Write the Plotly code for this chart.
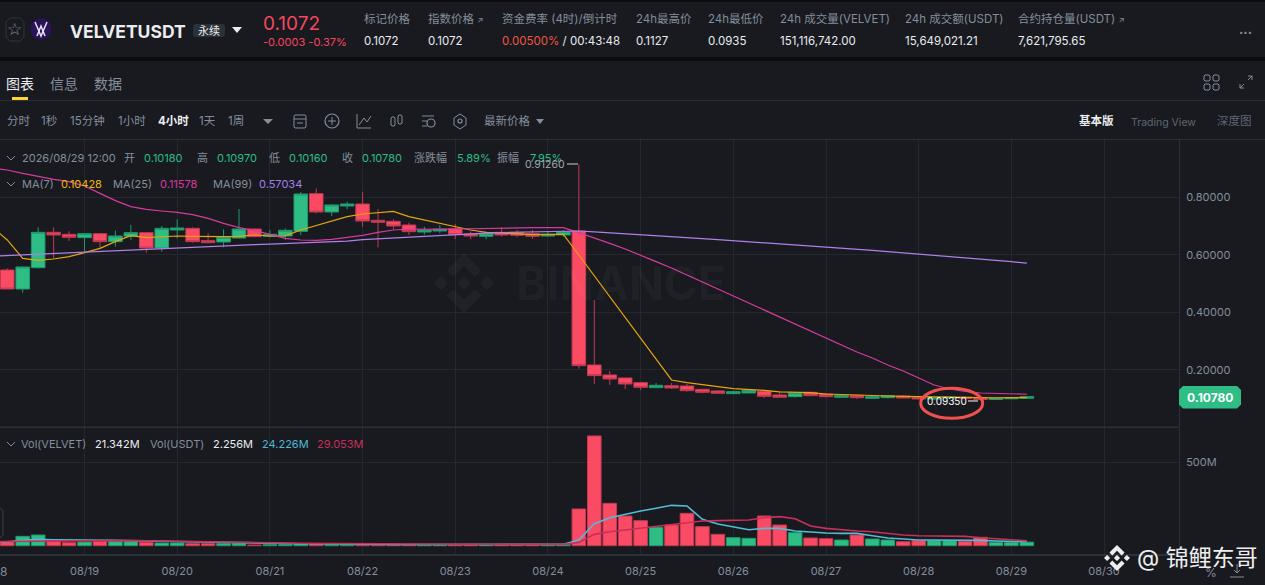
import pandas as pd
import plotly.graph_objects as go

# 4h candles, first one sits just off the left edge at 08/18 00:00
times = pd.date_range("2026-08-18 00:00", periods=68, freq="4h")

opens = [.5600, .5468, .4809, .5549, .6775, .6705, .6590, .6728, .6451, .6636, .6763,
         .6231, .6856, .6913, .6486, .6439, .6578, .6890, .6636, .6647, .6809,
         .8116, .7480, .7688, .7757, .7191, .7156, .7029, .6786, .6821, .6902,
         .6717, .6636, .6775, .6763, .6728, .6647, .6682, .6821, .2173, .1827,
         .1723, .1561, .1387, .1457, .1445, .1329, .1272, .1179, .1202, .1260,
         .1133, .1075, .1225, .1167, .1051, .1120, .1017, .1039, .1097, .1055,
         .0990, .1030, .1055, .1010, .0975, .1000, .1018]
highs = [.5700, .5526, .5584, .6948, .6948, .6810, .6740, .6740, .6832, .7029, .6763,
         .6994, .7226, .6948, .6740, .6879, .7584, .6913, .6856, .6913, .8173,
         .8301, .7746, .7838, .8185, .7584, .7226, .7110, .6971, .7029, .7064,
         .6798, .6798, .6948, .6855, .6855, .6798, .6855, .9126, .4428, .1965,
         .1723, .1584, .1549, .1549, .1514, .1353, .1306, .1283, .1306, .1283,
         .1225, .1225, .1249, .1190, .1167, .1143, .1120, .1132, .1132, .1097,
         .1060, .1070, .1075, .1040, .1030, .1045, .1097]
lows = [.5400, .4809, .4682, .5515, .5873, .6474, .6104, .6220, .6277, .6509, .6069,
        .6104, .6567, .6416, .6393, .6254, .6555, .6601, .6601, .6509, .6682,
        .7434, .7341, .7572, .6971, .6254, .6879, .6682, .6694, .6740, .6543,
        .6532, .6532, .6624, .6601, .6543, .6624, .6624, .2046, .1514, .1480,
        .1341, .1306, .1387, .1341, .1249, .1191, .1168, .1156, .1191, .1029,
        .1052, .1041, .1087, .1051, .1028, .0993, .0993, .1017, .1017, .0970,
        .0975, .1010, .0990, .0935, .0960, .0985, .1016]
closes = [.5468, .4809, .5572, .6775, .6682, .6601, .6728, .6451, .6647, .6763, .6231,
          .6913, .6925, .6451, .6416, .6601, .6890, .6624, .6705, .6844, .8104,
          .7480, .7723, .7757, .7168, .7122, .6994, .6798, .6855, .6890, .6694,
          .6647, .6740, .6682, .6671, .6636, .6705, .6798, .2150, .1804, .1688,
          .1514, .1399, .1468, .1376, .1283, .1225, .1191, .1249, .1295, .1087,
          .1052, .1202, .1110, .1074, .1120, .1039, .1074, .1109, .1028, .0995,
          .1030, .1055, .1010, .0975, .1005, .1018, .1078]

ma7 = [.6971, .6509, .5873, .5804, .5850, .5931, .6069, .6220, .6451, .6659, .6590,
       .6613, .6647, .6636, .6624, .6624, .6636, .6682, .6647, .6647, .6856,
       .7006, .7168, .7318, .7410, .7468, .7503, .7318, .7202, .7110, .6971,
       .6856, .6775, .6740, .6717, .6694, .6705, .6705, .5988, .5272, .4543,
       .3815, .3098, .2370, .1653, .1561, .1503, .1422, .1353, .1329, .1295,
       .1237, .1225, .1214, .1167, .1143, .1120, .1109, .1097, .1086, .1074,
       .1063, .1051, .1045, .1040, .1035, .1040, .1043]
ma25 = [.8994, .8936, .8821, .8705, .8613, .8532, .8382, .8127, .7873, .7665, .7572,
        .7515, .7468, .7388, .7260, .7087, .6937, .6844, .6705, .6566, .6509,
        .6497, .6532, .6590, .6671, .6775, .6856, .6890, .6879, .6879, .6890,
        .6902, .6913, .6913, .6925, .6936, .6936, .6936, .6763, .6590, .6393,
        .6197, .5988, .5757, .5538, .5295, .5040, .4798, .4555, .4312, .4069,
        .3827, .3572, .3329, .3092, .2866, .2624, .2416, .2173, .1965, .1722,
        .1479, .1340, .1253, .1201, .1190, .1170, .1158]
ma99 = [.5945, .5970, .5995, .6020, .6045, .6070, .6090, .6110, .6135, .6160, .6185,
        .6205, .6230, .6255, .6280, .6300, .6320, .6345, .6365, .6385, .6410,
        .6430, .6450, .6470, .6520, .6550, .6580, .6610, .6635, .6660, .6705,
        .6725, .6745, .6765, .6780, .6795, .6805, .6815, .6820, .6790, .6760,
        .6725, .6695, .6660, .6625, .6590, .6555, .6520, .6485, .6450, .6415,
        .6380, .6345, .6305, .6265, .6225, .6190, .6150, .6105, .6065, .6025,
        .5985, .5945, .5900, .5860, .5815, .5760, .5703]

# volume in millions
vols = [25, 24, 56, 64, 28, 18, 22, 26, 24, 24, 20, 16, 16, 12, 12, 12, 12, 4, 6, 6, 10,
        10, 8, 6, 8, 6, 5, 4, 5, 6, 7, 4, 5, 5, 4, 5, 4, 8, 220, 658, 254,
        178, 150, 110, 124, 194, 114, 68, 48, 44, 178, 124, 78, 46, 42, 34, 64, 40, 34, 24, 30,
        30, 30, 26, 50, 20, 20, 21.3]
vol_ma_a = [24, 24, 32, 38, 36, 36, 36, 34, 32, 30, 28, 26, 26, 22, 20, 18, 16, 14, 12, 12, 12,
            12, 12, 10, 10, 8, 8, 7, 7, 7, 6, 6, 6, 6, 6, 5, 6, 8, 34, 132, 168,
            190, 208, 224, 242, 238, 158, 130, 112, 96, 104, 104, 88, 80, 76, 74, 74, 60, 46, 40, 34,
            34, 34, 32, 32, 28, 26, 24.2]
vol_ma_b = [25, 26, 28, 29, 30, 30, 31, 31, 32, 32, 30, 28, 26, 24, 22, 20, 19, 18, 17, 16, 15,
            14, 13, 12, 11, 10, 10, 9, 9, 9, 9, 9, 9, 8, 8, 8, 8, 8, 20, 68, 84,
            94, 108, 118, 126, 138, 148, 150, 152, 154, 168, 174, 162, 118, 104, 94, 88, 84, 74, 64, 60,
            58, 56, 56, 48, 40, 36, 29.05]

date_ticks = ["2026-08-%02d" % d for d in range(19, 31)]
date_labels = ["08/%02d" % d for d in range(19, 31)]
price_ticks = [0.2, 0.4, 0.6, 0.8]
vol_ticks = [500]

GREEN = "#2ebd85"
RED = "#fb4a64"
BG = "#181a20"
GRID = "#24272e"
EDGE = "#2b3139"
GREY = "#848e9c"
DIM = "#5e6673"
FONT = "Inter, 'Noto Sans CJK SC', sans-serif"
W, H = 1265, 585


def fx(x):
    return x / W


def fy(y):
    return 1 - y / H


def pth(points, close=False):
    s = "M" + " L".join("%.5f,%.5f" % (fx(x), fy(y)) for x, y in points)
    return s + (" Z" if close else "")


shapes = []
notes = []


def text(x, y, s, color=GREY, size=11, anchor="left", bold=False, font=FONT):
    if bold:
        s = "<b>%s</b>" % s
    # annotations carry about 2px of padding
    if anchor == "left":
        x -= 2
    notes.append(dict(x=fx(x), y=fy(y), xref="paper", yref="paper", text=s, showarrow=False,
                      xanchor=anchor, yanchor="middle", align=anchor,
                      font=dict(color=color, size=size, family=font)))


def rect(x0, y0, x1, y1, color, layer="below"):
    shapes.append(dict(type="rect", xref="paper", yref="paper", x0=fx(x0), x1=fx(x1), y0=fy(y0), y1=fy(y1),
                       fillcolor=color, line=dict(width=0), layer=layer))


def poly(points, fill=None, line=None, width=1, close=True, layer="above"):
    shapes.append(dict(type="path", xref="paper", yref="paper", path=pth(points, close),
                       fillcolor=fill if fill else "rgba(0,0,0,0)",
                       line=dict(color=line if line else "rgba(0,0,0,0)", width=width if line else 0), layer=layer))


def ring(cx, cy, rx, ry, color, width=1.2, fill=None):
    shapes.append(dict(type="circle", xref="paper", yref="paper", x0=fx(cx - rx), x1=fx(cx + rx),
                       y0=fy(cy + ry), y1=fy(cy - ry), line=dict(color=color, width=width),
                       fillcolor=fill if fill else "rgba(0,0,0,0)", layer="above"))


def round_box(x0, y0, x1, y1, r, fill=None, line=None):
    pts = [(x0 + r, y0), (x1 - r, y0), (x1, y0 + r), (x1, y1 - r), (x1 - r, y1), (x0 + r, y1), (x0, y1 - r), (x0, y0 + r)]
    poly(pts, fill=fill, line=line)


def logo(cx, cy, s, color):
    # binance mark, s is the half width
    a = s * 0.24
    for dx, dy in [(0, 0), (-s + a, 0), (s - a, 0)]:
        poly([(cx + dx - a, cy + dy), (cx + dx, cy + dy - a), (cx + dx + a, cy + dy), (cx + dx, cy + dy + a)], fill=color)
    for sign in (-1, 1):
        tip = cy + sign * s
        poly([(cx, tip), (cx + 0.58 * s, cy + sign * 0.42 * s), (cx + 0.36 * s, cy + sign * 0.2 * s),
              (cx, cy + sign * 0.56 * s), (cx - 0.36 * s, cy + sign * 0.2 * s), (cx - 0.58 * s, cy + sign * 0.42 * s)], fill=color)


# page bands
rect(0, 0, W, 2, "#0c0d10")
rect(0, 57, W, 61, "#0c0d10")
rect(0, 100, W, 101, EDGE)
rect(0, 139, W, 140, EDGE)
rect(12, 97, 28, 100, "#fcd535")

# header
round_box(6, 18, 24, 41, 4, line="#2f343c")
text(15, 29, "☆", GREY, 17, "center", font="DejaVu Sans")
ring(41, 29, 11, 11, "#1f1235", 1, "#2a1458")
poly([(35, 22), (41, 36), (47, 22)], line="#e8e0f5", width=1.5, close=False)
poly([(37, 36), (41, 26), (45, 36)], line="#e8e0f5", width=1.5, close=False)
text(70, 31, "VELVETUSDT", "#eaecef", 17.5, bold=True)
round_box(193, 24, 225, 37, 2, fill="#2b3139")
text(209, 31, "永续", "#eaecef", 11, "center")
poly([(232, 27), (242, 27), (237, 33)], fill="#eaecef")
text(263, 24, "0.1072", "#f6465d", 19)
text(263, 42, "-0.0003 -0.37%", "#f6465d", 11)

arrow = " <span style='font-size:8px'>↗</span>"
header = [(364, "标记价格", "0.1072"), (428, "指数价格" + arrow, "0.1072"),
          (636, "24h最高价", "0.1127"), (708, "24h最低价", "0.0935"),
          (780, "24h 成交量(VELVET)", "151,116,742.00"), (905, "24h 成交额(USDT)", "15,649,021.21"),
          (1018, "合约持仓量(USDT)" + arrow, "7,621,795.65")]
for x, label, val in header:
    text(x, 19, label, GREY, 11.5)
    text(x, 41, val, "#eaecef", 11.5)
text(502, 19, "资金费率 (4时)/倒计时", GREY, 11.5)
text(502, 41, "<span style='color:#f0563f'>0.00500%</span> / 00:43:48", "#eaecef", 11.5)
text(1245, 29, "...", GREY, 13, "center", bold=True)

# tabs
text(6, 84, "图表", "#eaecef", 14)
text(50, 84, "信息", GREY, 14)
text(94, 84, "数据", GREY, 14)
for bx, by in [(1204, 75), (1213, 75), (1204, 84), (1213, 84)]:
    round_box(bx, by, bx + 6, by + 6, 1, line=GREY)
poly([(1240, 88), (1244, 84)], line=GREY, close=False)
poly([(1248, 80), (1252, 76)], line=GREY, close=False)
poly([(1248, 76), (1252, 76), (1252, 80)], line=GREY, close=False)
poly([(1240, 84), (1240, 88), (1244, 88)], line=GREY, close=False)

# toolbar
for x, s in [(7, "分时"), (41, "1秒"), (70, "15分钟"), (118, "1小时"), (199, "1天"), (228, "1周")]:
    text(x, 121, s, GREY, 11.5)
text(158, 121, "4小时", "#eaecef", 11.5, bold=True)
poly([(263, 119), (273, 119), (268, 124)], fill=GREY)
round_box(294, 115, 306, 128, 1, line=GREY)
poly([(294, 119), (306, 119)], line=GREY, close=False)
poly([(303, 123), (297, 123)], line=GREY, close=False)
ring(332, 121, 7, 7, GREY)
poly([(328, 121), (336, 121)], line=GREY, close=False)
poly([(332, 117), (332, 125)], line=GREY, close=False)
poly([(357, 114), (357, 128), (371, 128)], line=GREY, close=False)
poly([(359, 125), (364, 118), (367, 122), (371, 116)], line=GREY, close=False)
round_box(391, 117, 395, 126, 1, line=GREY)
round_box(398, 115, 402, 124, 1, line=GREY)
poly([(422, 116), (434, 116)], line=GREY, close=False)
poly([(422, 121), (427, 121)], line=GREY, close=False)
poly([(422, 126), (427, 126)], line=GREY, close=False)
ring(431, 123, 4, 4, GREY)
poly([(460, 114), (466, 118), (466, 125), (460, 129), (454, 125), (454, 118)], line=GREY)
ring(460, 121, 2, 2, GREY)
text(484, 121, "最新价格", GREY, 11.5)
poly([(536, 119), (544, 119), (540, 124)], fill=GREY)
text(1079, 121, "基本版", "#eaecef", 11.5, bold=True)
text(1131, 122, "Trading View", DIM, 10.5)
text(1217, 121, "深度图", DIM, 11.5)

# legend rows inside the chart
text(22, 158, "2026/08/29 12:00", GREY, 11)
poly([(7, 156), (11, 160), (15, 156)], line=GREY, close=False)
for x, s in [(124, "开"), (197, "高"), (269, "低"), (342, "收"), (414, "涨跌幅"), (497, "振幅")]:
    text(x, 158, s, GREY, 11)
for x, s in [(144, "0.10180"), (217, "0.10970"), (289, "0.10160"), (362, "0.10780"), (457, "5.89%"), (530, "7.95%")]:
    text(x, 158, s, GREEN, 11)
poly([(7, 182), (11, 186), (15, 182)], line=GREY, close=False)
text(22, 184, "MA(7)", GREY, 11)
text(61, 184, "0.10428", "#f0b90b", 11)
text(113, 184, "MA(25)", GREY, 11)
text(160, 184, "0.11578", "#d63a9e", 11)
text(213, 184, "MA(99)", GREY, 11)
text(259, 184, "0.57034", "#a97ee8", 11)
poly([(7, 442), (11, 446), (15, 442)], line=GREY, close=False)
text(21, 444, "Vol(VELVET)", GREY, 11)
text(95, 444, "21.342M", "#eaecef", 11)
text(150, 444, "Vol(USDT)", GREY, 11)
text(213, 444, "2.256M", "#eaecef", 11)
text(262, 444, "24.226M", "#4fb9d4", 11)
text(317, 444, "29.053M", "#c8305a", 11)

# price markers on the chart
text(545, 164, "0.91260", "#a0a6b0", 10.5, "center")
poly([(567, 164), (578, 164)], line="#c8ccd2", close=False)
text(947, 401, "0.09350", "#ffffff", 10, "center")
poly([(968, 401), (978, 401)], line="#ffffff", close=False)
ring(951.7, 403.3, 31, 15, "#f0504e", 3)
round_box(1179, 386, 1241, 408.5, 4, fill=GREEN)
text(1210, 397, "0.10780", "#ffffff", 12, "center", bold=True)
round_box(-8, 508, 3, 538, 3, line="#3a3f47")

# watermarks
logo(464, 283, 30, "rgba(255,255,255,0.035)")
text(621, 283, "BINANCE", "rgba(255,255,255,0.035)", 46, "center", bold=True)
logo(1117, 558, 13, "#eeeeee")
text(1137, 558, "@ 锦鲤东哥", "#eeeeee", 23)
text(1211, 572, "%", GREY, 12, "center")
poly([(1237, 564), (1237, 572)], line=GREY, close=False)
poly([(1234, 570), (1237, 573), (1240, 570)], line=GREY, close=False)
poly([(1230, 577), (1244, 577)], line=GREY, close=False)
text(0, 571, "8", GREY, 12, "left")

fig = go.Figure()

fig.add_trace(go.Candlestick(
    x=times, open=opens, high=highs, low=lows, close=closes,
    increasing=dict(fillcolor=GREEN, line=dict(color="#1f9a6c", width=1)),
    decreasing=dict(fillcolor=RED, line=dict(color="#c23a52", width=1)),
    whiskerwidth=0, xaxis="x", yaxis="y", hoverinfo="skip"
))
for vals, color in [(ma7, "#e5a50a"), (ma25, "#d63a9e"), (ma99, "#b07fe8")]:
    fig.add_trace(go.Scatter(x=times, y=vals, mode="lines", line=dict(color=color, width=1.2),
                             xaxis="x", yaxis="y", hoverinfo="skip"))

bar_colors = [GREEN if c >= o else RED for o, c in zip(opens, closes)]
bar_edges = ["#1f9a6c" if c >= o else "#c23a52" for o, c in zip(opens, closes)]
fig.add_trace(go.Bar(x=times, y=vols, marker=dict(color=bar_colors, line=dict(color=bar_edges, width=1)),
                     xaxis="x2", yaxis="y2", hoverinfo="skip"))
fig.add_trace(go.Scatter(x=times, y=vol_ma_a, mode="lines", line=dict(color="#55bcd6", width=1.6),
                         xaxis="x2", yaxis="y2", hoverinfo="skip"))
fig.add_trace(go.Scatter(x=times, y=vol_ma_b, mode="lines", line=dict(color="#c8305a", width=1.6),
                         xaxis="x2", yaxis="y2", hoverinfo="skip"))

x_range = ["2026-08-18 02:07", "2026-08-30 19:24"]
x_common = dict(range=x_range, type="date", tickmode="array", tickvals=date_ticks,
                showgrid=True, gridcolor=GRID, gridwidth=1, zeroline=False, fixedrange=True)

fig.update_layout(
    width=W, height=H,
    margin=dict(l=0, r=0, t=0, b=0),
    paper_bgcolor=BG, plot_bgcolor=BG,
    showlegend=False,
    font=dict(family=FONT, color=GREY, size=11),
    boxgap=0.12, boxgroupgap=0, bargap=0.12,
    xaxis=dict(domain=[0, 1179 / W], anchor="y", showticklabels=False, rangeslider=dict(visible=False), **x_common),
    xaxis2=dict(domain=[0, 1179 / W], anchor="y2", ticktext=date_labels, ticks="outside", ticklen=6,
                tickcolor="rgba(0,0,0,0)", showline=True, linecolor=EDGE, linewidth=1.5, **x_common),
    yaxis=dict(domain=[fy(427), fy(140)], anchor="x", side="right", range=[0.0022, 0.9977],
               tickvals=price_ticks, tickformat=".5f", gridcolor=GRID, zeroline=False,
               ticks="outside", ticklen=4, tickcolor="rgba(0,0,0,0)",
               showline=True, linecolor=EDGE, linewidth=1, fixedrange=True),
    yaxis2=dict(domain=[fy(554), fy(428)], anchor="x2", side="right", range=[-49.8, 705.6],
                tickvals=vol_ticks, ticktext=["500M"], gridcolor=GRID, zeroline=False,
                ticks="outside", ticklen=4, tickcolor="rgba(0,0,0,0)",
                showline=True, linecolor=EDGE, linewidth=1, fixedrange=True),
    shapes=shapes,
    annotations=notes,
)
# pane divider
fig.add_shape(type="rect", xref="paper", yref="paper", x0=0, x1=1179 / W, y0=fy(428), y1=fy(426.5),
              fillcolor=EDGE, line=dict(width=0), layer="above")

fig.write_html("out.html", config=dict(displayModeBar=False),
               post_script="document.body.style.margin='0';document.body.style.overflow='hidden';")
